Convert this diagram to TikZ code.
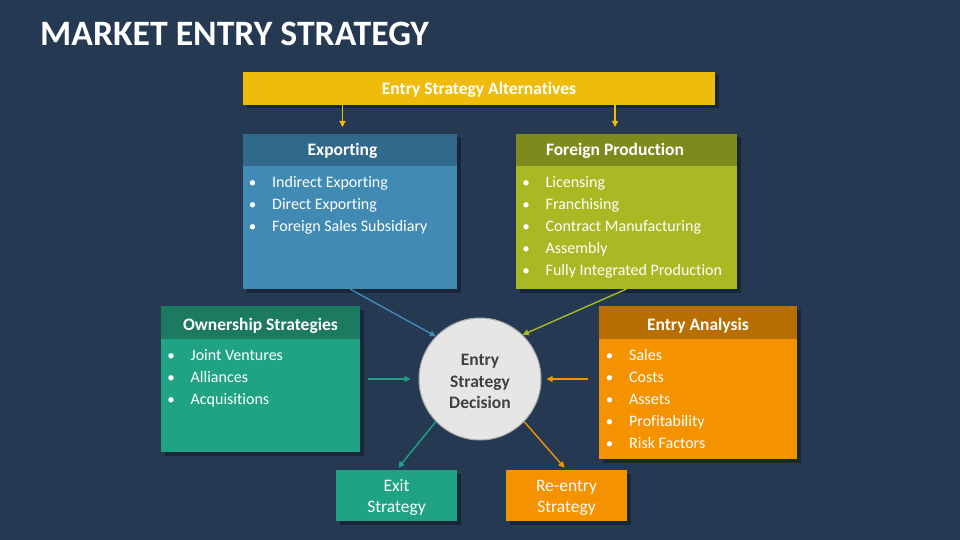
\documentclass[tikz,border=0pt]{standalone}
\usepackage{fontspec}
\setmainfont[Ligatures={NoCommon}]{Carlito}
\usetikzlibrary{arrows.meta,shadows}
\definecolor{bg}{HTML}{253A52}
\definecolor{shadowc}{HTML}{18263A}
\definecolor{altc}{HTML}{F0BC0C}
\definecolor{exphead}{HTML}{31698A}
\definecolor{expbody}{HTML}{418AB3}
\definecolor{fphead}{HTML}{7E8A1C}
\definecolor{fpbody}{HTML}{A9B823}
\definecolor{ownhead}{HTML}{1B7A5F}
\definecolor{ownbody}{HTML}{1FA384}
\definecolor{eahead}{HTML}{B86E00}
\definecolor{eabody}{HTML}{F59200}
\definecolor{circfill}{HTML}{E6E6E6}
\definecolor{circedge}{HTML}{A6A6A6}
\definecolor{circtext}{HTML}{404040}
\begin{document}
\begin{tikzpicture}[x=1pt,y=-1pt,
  panel/.style={rectangle,draw=none,inner sep=0pt,outer sep=0pt},
  shad/.style={drop shadow={shadow xshift=3.5pt,shadow yshift=-3.5pt,fill=shadowc,opacity=1}},
  hdtext/.style={inner sep=0pt,text=white,font=\bfseries\fontsize{17.5}{21}\selectfont},
  itemtext/.style={inner sep=0pt,anchor=base west,text=white,font=\fontsize{16}{20}\selectfont},
  bultext/.style={inner sep=0pt,anchor=base,text=white,font=\fontsize{15}{20}\selectfont},
  smalltext/.style={inner sep=0pt,align=center,text=white,font=\fontsize{17.5}{21}\selectfont},
  conn/.style={line width=1.4pt,-{Triangle[length=6pt,width=6pt]}}]
\fill[bg] (0,0) rectangle (960,540);
\useasboundingbox (0,0) rectangle (960,540);

% title
\node[anchor=base west,inner sep=0pt,text=white,font=\bfseries\fontsize{35.7}{40}\selectfont] (title) at (40,46) {MARKET ENTRY STRATEGY};

% alternatives bar
\node[panel,shad,fill=altc,minimum width=472pt,minimum height=33pt] (alt) at (479,88.5) {};
\node[hdtext,anchor=base] (alttext) at (479,94.5) {Entry Strategy Alternatives};

% Exporting
\node[panel,shad,fill=expbody,minimum width=214pt,minimum height=155pt] (exp) at (350,211.5) {};
\node[panel,fill=exphead,minimum width=214pt,minimum height=32pt,anchor=north] (exph) at (exp.north) {};
\node[hdtext,anchor=base] (expt) at (342.5,156) {Exporting};
\foreach \t [count=\i] in {Indirect Exporting,Direct Exporting,Foreign Sales Subsidiary}{
  \node[bultext] (expb\i) at (252.5,{165+22*\i}) {\textbullet};
  \node[itemtext] (expi\i) at (272,{165+22*\i}) {\t};
}

% Foreign Production
\node[panel,shad,fill=fpbody,minimum width=221pt,minimum height=155pt] (fp) at (626.5,211.5) {};
\node[panel,fill=fphead,minimum width=221pt,minimum height=32pt,anchor=north] (fph) at (fp.north) {};
\node[hdtext,anchor=base] (fpt) at (615,156) {Foreign Production};
\foreach \t [count=\i] in {Licensing,Franchising,Contract Manufacturing,Assembly,Fully Integrated Production}{
  \node[bultext] (fpb\i) at (526,{165+22*\i}) {\textbullet};
  \node[itemtext] (fpi\i) at (545.5,{165+22*\i}) {\t};
}

% Ownership Strategies
\node[panel,shad,fill=ownbody,minimum width=199pt,minimum height=146pt] (own) at (260.5,379) {};
\node[panel,fill=ownhead,minimum width=199pt,minimum height=33pt,anchor=north] (ownh) at (own.north) {};
\node[hdtext,anchor=base] (ownt) at (260.5,330) {Ownership Strategies};
\foreach \t [count=\i] in {Joint Ventures,Alliances,Acquisitions}{
  \node[bultext] (ownb\i) at (171,{338+22*\i}) {\textbullet};
  \node[itemtext] (owni\i) at (190.5,{338+22*\i}) {\t};
}

% Entry Analysis
\node[panel,shad,fill=eabody,minimum width=198pt,minimum height=153pt] (ea) at (698,382.5) {};
\node[panel,fill=eahead,minimum width=198pt,minimum height=33pt,anchor=north] (eah) at (ea.north) {};
\node[hdtext,anchor=base] (eat) at (698,330) {Entry Analysis};
\foreach \t [count=\i] in {Sales,Costs,Assets,Profitability,Risk Factors}{
  \node[bultext] (eab\i) at (609.5,{338+22*\i}) {\textbullet};
  \node[itemtext] (eai\i) at (629,{338+22*\i}) {\t};
}

% Decision circle
\node[circle,draw=circedge,line width=1pt,fill=circfill,minimum size=122pt,inner sep=0pt] (dec) at (480,379) {};
\node[inner sep=0pt,align=center,text=circtext,font=\bfseries\fontsize{17.5}{21.3}\selectfont] (dectext) at (480,381.5) {Entry\\Strategy\\Decision};

% Exit and Re-entry
\node[panel,shad,fill=ownbody,minimum width=121pt,minimum height=51pt] (exit) at (396.5,495.5) {};
\node[smalltext] (exittext) at (396.5,497.5) {Exit\\Strategy};
\node[panel,shad,fill=eabody,minimum width=121pt,minimum height=51pt] (reentry) at (566.5,495.5) {};
\node[smalltext] (reentrytext) at (566.5,497.5) {Re-entry\\Strategy};

% connectors
\draw[conn,altc,line width=1.2pt,shorten >=7pt] (alt.south -| expt) -- (exph.north -| expt);
\draw[conn,altc,line width=1.2pt,shorten >=7pt] (alt.south -| fpt) -- (fph.north -| fpt);
\draw[conn,expbody] (exp.south) -- (dec.136);
\draw[conn,fpbody] (fp.south) -- (dec.46);
\draw[conn,ownbody,shorten <=8pt,shorten >=8pt] (own.east |- dec.west) -- (dec.west);
\draw[conn,eabody,shorten <=11pt,shorten >=5pt] (ea.west |- dec.east) -- (dec.east);
\draw[conn,ownbody,shorten >=3pt] (dec.224) -- (exit.north);
\draw[conn,eabody,shorten >=3pt] (dec.316) -- (reentry.north);
\end{tikzpicture}
\end{document}
